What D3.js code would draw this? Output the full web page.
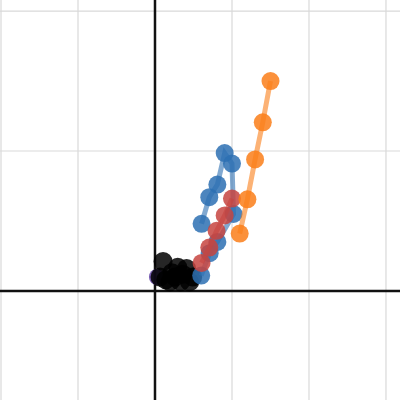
<!DOCTYPE html><html><head><script src="https://cdn.jsdelivr.net/npm/d3@7"></script>
<style>body{margin:0}</style></head><body><svg id="c" width="400" height="400"></svg><script>
const xTicks=[-20,-10,0,10,20,30];
const yTicks=[-10,0,10,20];
const orangeX=[11,12,13,14,15], orangeY=[4.1,6.55,9.4,12.05,15];
const blueX=[6,7.1,8.1,10.2,10,9.05,8.1,7.05,6.05], blueY=[1.1,2.7,3.5,5.5,9.1,9.85,7.6,6.7,4.8];
const redX=[6.05,7.05,8,9.05,10], redY=[2,3.1,4.3,5.4,6.6];
const blackX=[1.05,0.65,2.2,2.95,4.1,4.9,3.3,4.5,1.95,3.6,2.6,1.4], blackY=[2.1,1.0,1.3,1.7,1.6,1.0,0.65,0.65,0.65,1.2,1.0,0.8];
const purpleX=[0.25], purpleY=[1.0];
const x=d3.scaleLinear().domain([-20.13,31.82]).range([0,400]);
const y=d3.scaleLinear().domain([-7.79,20.79]).range([400,0]);
const svg=d3.select("#c");
svg.append("rect").attr("width",400).attr("height",400).attr("fill","#fff");
svg.selectAll(".gx").data(xTicks).join("line").attr("x1",d=>x(d)).attr("x2",d=>x(d)).attr("y1",0).attr("y2",400).attr("stroke","#d9d9d9").attr("stroke-width",1.2);
svg.selectAll(".gy").data(yTicks).join("line").attr("y1",d=>y(d)).attr("y2",d=>y(d)).attr("x1",0).attr("x2",400).attr("stroke","#d9d9d9").attr("stroke-width",1.2);
svg.append("line").attr("x1",x(0)).attr("x2",x(0)).attr("y1",0).attr("y2",400).attr("stroke","#111").attr("stroke-width",2.5);
svg.append("line").attr("y1",y(0)).attr("y2",y(0)).attr("x1",0).attr("x2",400).attr("stroke","#111").attr("stroke-width",2.5);
function series(xs,ys,col,line,r){
  const pts=xs.map((v,i)=>[x(v),y(ys[i])]);
  if(line) svg.append("path").attr("d",d3.line()(pts)).attr("fill","none").attr("stroke",col).attr("stroke-width",5).attr("stroke-opacity",0.6);
  svg.append("g").selectAll("circle").data(pts).join("circle").attr("cx",d=>d[0]).attr("cy",d=>d[1]).attr("r",r).attr("fill",col).attr("fill-opacity",0.85);
}
series(purpleX,purpleY,"#6042a6",false,8);
series(blackX,blackY,"#000",false,9.5);
series(blueX,blueY,"#2d70b3",true,9);
series(redX,redY,"#c74440",true,9);
series(orangeX,orangeY,"#fa7e19",true,9);
</script></body></html>
